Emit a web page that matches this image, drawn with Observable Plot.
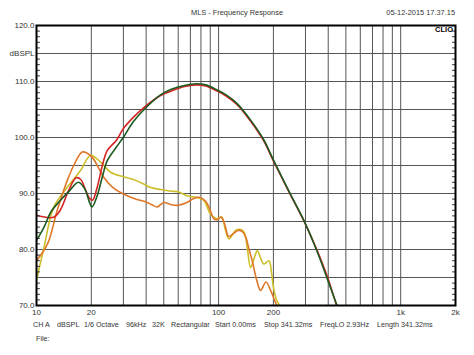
<!DOCTYPE html>
<html>
<head>
<meta charset="utf-8">
<script src="https://cdn.jsdelivr.net/npm/d3@7"></script>
<script src="https://cdn.jsdelivr.net/npm/@observablehq/plot@0.6"></script>
<style>
  html, body { margin: 0; padding: 0; background: #fff; }
  #wrap { position: relative; width: 474px; height: 355px; font-family: "Liberation Sans", Arial, sans-serif; color: #333; }
  .t { position: absolute; font-size: 7.2px; white-space: pre; line-height: 1; }
</style>
</head>
<body>
<div id="wrap"></div>
<script>
// ---- data ----
const freqTicks = [10, 20, 50, 100, 200, 500, 700, 1000, 2000];
const freqLabels = ["10", "20", "50", "100", "200", "500", "Hz", "1k", "2k"];
const dbTicks = [70, 80, 90, 100, 110, 115, 120];
const dbLabels = ["70.0", "80.0", "90.0", "100.0", "110.0", "dBSPL", "120.0"];
const xGrid = [20, 30, 40, 50, 60, 70, 80, 90, 100, 200, 300, 400, 500, 600, 700, 800, 900, 1000];
const yGrid = [75, 80, 85, 90, 95, 100, 105, 110, 115];
const yMinor = [71,72,73,74,76,77,78,79,81,82,83,84,86,87,88,89,91,92,93,94,96,97,98,99,101,102,103,104,106,107,108,109,111,112,113,114,116,117,118,119];

const redF  = [10, 11.5, 12.5, 13.5, 15, 16.5, 17.5, 18.5, 19.5, 20.3, 21.5, 23, 24.5, 27.5, 30, 34, 39, 48, 55, 65, 75, 85, 98, 110, 126, 150, 177, 200, 248, 294, 348, 395, 430, 450];
const redDb = [86.1, 85.7, 85.8, 87, 90.5, 92.8, 92.5, 90.8, 89.2, 88.8, 91, 95, 97.7, 99.5, 101.6, 103.6, 105.4, 107.5, 108.3, 109.1, 109.4, 109.2, 108.3, 107.4, 105.9, 102.9, 99.4, 95.8, 89.8, 85.1, 79.8, 75.2, 71.5, 69.5];

const greenF  = [10, 11, 12, 13.5, 15, 17, 18.5, 19.5, 20.2, 21.5, 23, 24.5, 27.5, 30, 34, 39, 48, 55, 65, 75, 85, 98, 110, 126, 150, 177, 200, 248, 294, 348, 395, 446, 455];
const greenDb = [81.6, 84, 86.7, 88.75, 90.3, 92.0, 90.7, 88.5, 87.6, 89.5, 93, 95.9, 98.3, 100.05, 102.8, 105.0, 107.6, 108.6, 109.3, 109.6, 109.4, 108.5, 107.6, 106.1, 103.1, 99.6, 96, 89.9, 85.2, 79.6, 74.8, 70.1, 69.5];

const orangeF  = [10, 11.5, 13, 14.75, 16, 17.8, 19, 20.2, 22, 23.4, 26, 30, 35, 40, 43, 46, 48, 50, 55, 60, 67, 73, 79, 85, 90, 94, 98, 103, 108, 113.6, 120, 128, 135, 141, 147, 153, 162, 170, 182, 193, 205, 215];
const orangeDb = [78, 81, 87, 92.3, 95, 97.4, 97.2, 96.5, 94.5, 92.9, 91.2, 89.9, 89, 88.5, 88.0, 87.6, 88.0, 88.4, 88.0, 87.9, 88.4, 89.1, 89.3, 88.6, 87, 85.5, 85.3, 85.8, 84.5, 82.3, 82.8, 83.4, 83.2, 82.2, 80, 78, 74.5, 72.7, 74.2, 72.7, 70.6, 69];

const yellowF  = [10, 11, 12.45, 14.75, 17.45, 19.8, 22.5, 25.5, 30, 34, 38.8, 42, 48, 55, 60, 67, 76, 83, 90, 98, 104, 109, 114, 124, 131, 138, 144, 150, 157, 163, 170, 177, 189, 195, 200, 208, 214, 220];
const yellowDb = [74.5, 80.4, 87.6, 91.1, 94.1, 96.8, 95.6, 93.8, 93.0, 92.5, 91.7, 91.1, 90.7, 90.4, 90.3, 89.6, 89.3, 88.75, 86.4, 85.5, 85.8, 83.5, 81.9, 83.4, 83.6, 83.1, 80, 76.8, 78.5, 79.8, 78.5, 77.4, 78, 76, 73.3, 71, 70.3, 69];

const title = "MLS - Frequency Response";
const stamp = "05-12-2015 17.37.15";
const brand = "CLIO";
const footItems = ["CH A", "dBSPL", "1/6 Octave", "96kHz", "32K", "Rectangular", "Start 0.00ms", "Stop 341.32ms", "FreqLO 2.93Hz", "Length 341.32ms"];
const footX = [33, 57, 84, 126, 152, 171, 215, 264, 320, 377];
const fileLabel = "File:";

// ---- build ----
const toRows = (F, D) => F.map((f, i) => ({f, db: D[i]}));
const series = [
  {rows: toRows(yellowF, yellowDb), color: "#cdbf2a"},
  {rows: toRows(orangeF, orangeDb), color: "#e0782a"},
  {rows: toRows(redF, redDb), color: "#d42424"},
  {rows: toRows(greenF, greenDb), color: "#1d5a22"}
];
const xLab = new Map(freqTicks.map((t, i) => [t, freqLabels[i]]));
const yLab = new Map(dbTicks.map((t, i) => [t, dbLabels[i]]));
const [xMin, xMax] = [freqTicks[0], freqTicks[freqTicks.length - 1]];
const tickShape = {draw(ctx, l) { ctx.moveTo(0, 0); ctx.lineTo(0, -l); }};

const chart = Plot.plot({
  width: 474, height: 355,
  marginLeft: 36, marginRight: 19, marginTop: 25, marginBottom: 50,
  style: {fontFamily: "Liberation Sans, Arial, sans-serif", fontSize: "8px", color: "#333", background: "#fff"},
  x: {type: "log", domain: [xMin, xMax]},
  y: {domain: [70, 120]},
  marks: [
    Plot.ruleX(xGrid, {stroke: "#555", strokeWidth: 1}),
    Plot.ruleY(yGrid, {stroke: "#555", strokeWidth: 1}),
    ...series.map(s => Plot.line(s.rows, {x: "f", y: "db", stroke: s.color, strokeWidth: 1.6, curve: "catmull-rom", clip: true})),
    Plot.vector(yMinor, {x: xMin, y: d => d, length: 3, rotate: 90, anchor: "start", shape: tickShape, stroke: "#333", strokeWidth: 1}),
    Plot.vector(yMinor, {x: xMax, y: d => d, length: 3, rotate: -90, anchor: "start", shape: tickShape, stroke: "#333", strokeWidth: 1}),
    Plot.axisX(freqTicks, {anchor: "bottom", tickSize: 0, tickPadding: 4, tickFormat: d => xLab.get(d), fill: "#333", label: null}),
    Plot.axisY(dbTicks, {anchor: "left", tickSize: 0, tickPadding: 2, tickFormat: d => yLab.get(d), fill: "#333", label: null}),
    Plot.frame({stroke: "#000", strokeWidth: 2})
  ]
});

const wrap = document.getElementById("wrap");
wrap.appendChild(chart);
chart.style.position = "absolute"; chart.style.left = "0"; chart.style.top = "0";

function addText(txt, css) {
  const d = document.createElement("div");
  d.className = "t";
  d.textContent = txt;
  Object.assign(d.style, css);
  wrap.appendChild(d);
}
addText(title, {left: "0", width: "474px", textAlign: "center", top: "9px", fontSize: "7.4px"});
addText(stamp, {right: "19px", top: "9px", fontSize: "7.4px"});
addText(brand, {right: "21px", top: "26px", fontWeight: "bold", color: "#000", fontSize: "7.5px"});
footItems.forEach((s, i) => addText(s, {left: footX[i] + "px", top: "321px"}));
addText(fileLabel, {left: "36px", top: "335px"});
</script>
</body>
</html>
